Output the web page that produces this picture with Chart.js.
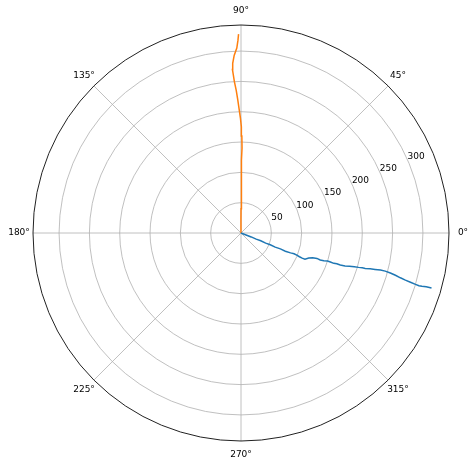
<!DOCTYPE html>
<html>
<head>
<meta charset="utf-8">
<script src="https://cdn.jsdelivr.net/npm/chart.js@4"></script>
<style>
  html, body { margin: 0; padding: 0; background: #fff; }
  canvas { display: block; }
</style>
</head>
<body>
<canvas id="polarChart" width="474" height="467"></canvas>
<script>
// --- data (theta in degrees, r in data units) ---
const blueR = [0, 9, 18, 27, 35, 44, 52, 61, 70, 79, 88, 94, 99, 104, 109, 114, 119, 125, 132, 138,
  144, 150, 155, 161, 166, 172, 180, 187, 195, 202, 208, 213, 221, 229, 238, 246, 255, 264, 273, 282,
  291, 300, 306, 311, 318, 327];
const blueTheta = [339, 338.4, 338.9, 338.0, 338.4, 337.7, 338.0, 337.6, 338.0, 337.7, 338.1, 338.6,
  338.3, 337.9, 337.6, 337.7, 339.8, 340.9, 341.5, 341.2, 341.5, 342.1, 342.0, 341.9, 342.2, 342.1,
  342.4, 343.0, 343.4, 343.7, 344.0, 344.1, 344.5, 344.8, 345.1, 345.2, 345.0, 344.7, 344.3, 344.0,
  343.8, 343.6, 343.5, 343.6, 343.8, 343.9];

const orangeR = [0, 20, 40, 60, 80, 100, 120, 140, 160, 175, 190, 205, 220, 235, 250, 262, 270, 280,
  293, 305, 318, 328];
const orangeTheta = [90, 90.2, 89.9, 89.8, 89.6, 89.5, 89.4, 89.3, 89.5, 89.8, 90.3, 90.9, 91.4, 91.9,
  92.5, 92.8, 93.0, 92.8, 92.2, 91.3, 90.9, 90.7];

const rTicks = [50, 100, 150, 200, 250, 300];
const thetaTicks = [0, 45, 90, 135, 180, 225, 270, 315];
const rMax = 343;

// --- polar -> cartesian for the scatter scales ---
function toXY(rs, thetas) {
  return rs.map((r, i) => {
    const a = (thetas[i] * Math.PI) / 180;
    return { x: r * Math.cos(a), y: r * Math.sin(a) };
  });
}

// --- polar grid drawn through the chart's own x/y scales ---
const polarGrid = {
  id: "polarGrid",
  beforeDatasetsDraw(chart) {
    const { ctx, scales } = chart;
    const sx = scales.x, sy = scales.y;
    const cx = sx.getPixelForValue(0);
    const cy = sy.getPixelForValue(0);
    const rad = (v) => sx.getPixelForValue(v) - cx;
    const R = rad(rMax);
    ctx.save();
    ctx.strokeStyle = "#b0b0b0";
    ctx.lineWidth = 0.8;
    rTicks.forEach((t) => {
      ctx.beginPath();
      ctx.arc(cx, cy, rad(t), 0, Math.PI * 2);
      ctx.stroke();
    });
    thetaTicks.forEach((d) => {
      const a = (d * Math.PI) / 180;
      ctx.beginPath();
      ctx.moveTo(cx, cy);
      ctx.lineTo(cx + R * Math.cos(a), cy - R * Math.sin(a));
      ctx.stroke();
    });
    // outer spine
    ctx.strokeStyle = "#222";
    ctx.lineWidth = 1;
    ctx.beginPath();
    ctx.arc(cx, cy, R, 0, Math.PI * 2);
    ctx.stroke();

    // labels
    ctx.fillStyle = "#000";
    ctx.font = '9px "DejaVu Sans"';
    ctx.textAlign = "center";
    ctx.textBaseline = "middle";
    thetaTicks.forEach((d) => {
      const a = (d * Math.PI) / 180;
      const lr = R + 14;
      ctx.fillText(d + "°", cx + lr * Math.cos(a), cy - lr * Math.sin(a));
    });
    const la = (23.5 * Math.PI) / 180;
    rTicks.forEach((t) => {
      const lr = rad(t) + 9;
      ctx.fillText(String(t), cx + lr * Math.cos(la), cy - lr * Math.sin(la));
    });
    ctx.restore();
  },
};

const whiteBg = {
  id: "whiteBg",
  beforeDraw(chart) {
    const ctx = chart.ctx;
    ctx.save();
    ctx.fillStyle = "#fff";
    ctx.fillRect(0, 0, chart.width, chart.height);
    ctx.restore();
  },
};

new Chart(document.getElementById("polarChart").getContext("2d"), {
  type: "scatter",
  data: {
    datasets: [
      {
        data: toXY(blueR, blueTheta),
        showLine: true,
        borderColor: "#1f77b4",
        borderWidth: 1.5,
        pointRadius: 0,
        tension: 0,
      },
      {
        data: toXY(orangeR, orangeTheta),
        showLine: true,
        borderColor: "#ff7f0e",
        borderWidth: 1.5,
        pointRadius: 0,
        tension: 0,
      },
    ],
  },
  options: {
    responsive: false,
    animation: false,
    layout: { padding: { left: 33, right: 25, top: 25, bottom: 26 } },
    plugins: { legend: { display: false }, tooltip: { enabled: false } },
    scales: {
      x: { type: "linear", min: -rMax, max: rMax, display: false },
      y: { type: "linear", min: -rMax, max: rMax, display: false },
    },
  },
  plugins: [whiteBg, polarGrid],
});
</script>
</body>
</html>
